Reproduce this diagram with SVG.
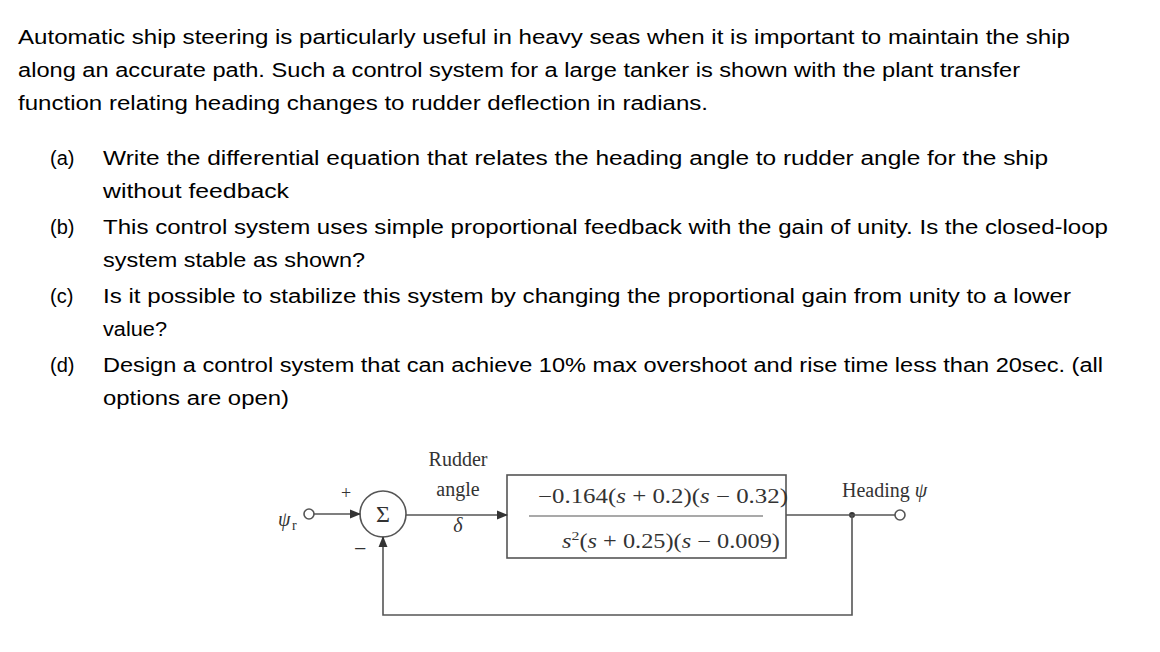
<svg xmlns="http://www.w3.org/2000/svg" width="1160" height="652" viewBox="0 0 1160 652">
<style>
.t{font-family:"Liberation Sans",Arial,sans-serif;font-size:20px;fill:#000}
.d{font-family:"Liberation Serif","Times New Roman",serif;font-size:20px;fill:#333}
.l{stroke:#555;stroke-width:1.6;fill:none}
</style>
<defs><marker id="a" viewBox="0 0 10 10" refX="9" refY="5" markerWidth="7" markerHeight="7" orient="auto"><path d="M0,1 L10,5 L0,9z" fill="#333"/></marker></defs>
<rect width="1160" height="652" fill="#fff"/>
<g id="text">
<text class="t" x="18" y="44" textLength="1052" lengthAdjust="spacingAndGlyphs">Automatic ship steering is particularly useful in heavy seas when it is important to maintain the ship</text>
<text class="t" x="18" y="77" textLength="1002" lengthAdjust="spacingAndGlyphs">along an accurate path. Such a control system for a large tanker is shown with the plant transfer</text>
<text class="t" x="18" y="110" textLength="690" lengthAdjust="spacingAndGlyphs">function relating heading changes to rudder deflection in radians.</text>
<text class="t" x="50" y="165">(a)</text>
<text class="t" x="103" y="165" textLength="945" lengthAdjust="spacingAndGlyphs">Write the differential equation that relates the heading angle to rudder angle for the ship</text>
<text class="t" x="103" y="198" textLength="186" lengthAdjust="spacingAndGlyphs">without feedback</text>
<text class="t" x="50" y="234">(b)</text>
<text class="t" x="103" y="234" textLength="1005" lengthAdjust="spacingAndGlyphs">This control system uses simple proportional feedback with the gain of unity. Is the closed-loop</text>
<text class="t" x="103" y="267" textLength="262" lengthAdjust="spacingAndGlyphs">system stable as shown?</text>
<text class="t" x="50" y="303">(c)</text>
<text class="t" x="103" y="303" textLength="968" lengthAdjust="spacingAndGlyphs">Is it possible to stabilize this system by changing the proportional gain from unity to a lower</text>
<text class="t" x="103" y="336" textLength="64" lengthAdjust="spacingAndGlyphs">value?</text>
<text class="t" x="50" y="372">(d)</text>
<text class="t" x="103" y="372" textLength="1000" lengthAdjust="spacingAndGlyphs">Design a control system that can achieve 10% max overshoot and rise time less than 20sec. (all</text>
<text class="t" x="103" y="405" textLength="186" lengthAdjust="spacingAndGlyphs">options are open)</text>
</g>
<g id="input"><circle cx="309" cy="514" r="5" class="l"/><text class="d" x="278" y="526" font-style="italic">ψ</text><text class="d" x="292" y="530" style="font-size:14px">r</text></g>
<g id="sum"><circle cx="383" cy="514" r="23" class="l"/><text class="d" x="383" y="522" text-anchor="middle" style="font-size:24px">Σ</text>
<text class="d" x="341" y="499" style="font-size:18px">+</text><text class="d" x="354" y="556" style="font-size:22px">−</text></g>
<g id="plant"><rect x="507" y="475" width="279" height="83" class="l"/>
<text class="d" x="538" y="503" textLength="250" lengthAdjust="spacingAndGlyphs">−0.164(<tspan font-style="italic">s</tspan> + 0.2)(<tspan font-style="italic">s</tspan> − 0.32)</text>
<line x1="529" y1="516" x2="763" y2="516" stroke="#555" stroke-width="1.2"/>
<text class="d" x="562" y="548" textLength="218" lengthAdjust="spacingAndGlyphs"><tspan font-style="italic">s</tspan><tspan style="font-size:13px" dy="-8">2</tspan><tspan dy="8">(</tspan><tspan font-style="italic">s</tspan> + 0.25)(<tspan font-style="italic">s</tspan> − 0.009)</text></g>
<g id="labels">
<text class="d" x="458" y="466" text-anchor="middle">Rudder</text>
<text class="d" x="458" y="496" text-anchor="middle">angle</text>
<text class="d" x="458" y="532" text-anchor="middle" font-style="italic">δ</text>
<text class="d" x="842" y="497">Heading <tspan font-style="italic">ψ</tspan></text></g>
<g id="output"><circle cx="900" cy="515" r="5" class="l"/><circle cx="852" cy="515" r="3" fill="#333"/></g>
<g id="connectors">
<line x1="314" y1="514" x2="360" y2="514" class="l" marker-end="url(#a)"/>
<line x1="406" y1="515" x2="507" y2="515" class="l" marker-end="url(#a)"/>
<line x1="786" y1="515" x2="895" y2="515" class="l"/>
<polyline points="852,515 852,615 383,615 383,537" class="l" marker-end="url(#a)"/>
</g>
</svg>
